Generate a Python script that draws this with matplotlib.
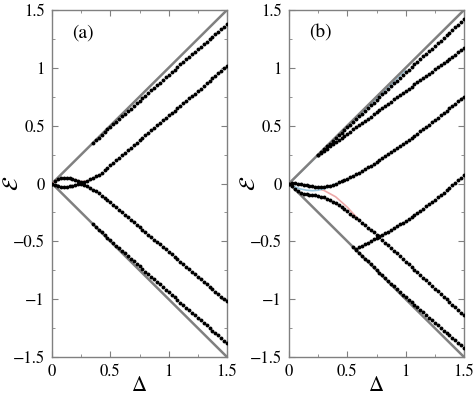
import numpy as np
import matplotlib
matplotlib.use("Agg")
import matplotlib.pyplot as plt
from matplotlib.ticker import MultipleLocator

# ---------------- data ----------------
# sampling grid of Delta (uniform, 0.025 step)
delta = np.linspace(0.0, 1.5, 61)

# panel (a)
a_outer_up = [0.350, 0.374, 0.397, 0.420, 0.444, 0.467, 0.490, 0.513, 0.535, 0.558,
              0.580, 0.603, 0.625, 0.648, 0.670, 0.693, 0.715, 0.738, 0.760, 0.783,
              0.805, 0.828, 0.850, 0.873, 0.895, 0.917, 0.940, 0.962, 0.985, 1.007,
              1.030, 1.052, 1.074, 1.096, 1.117, 1.139, 1.161, 1.183, 1.205, 1.227,
              1.248, 1.270, 1.291, 1.313, 1.335, 1.357, 1.380]          # from 0.35
a_inner_up = [0.000, 0.022, 0.037, 0.046, 0.050, 0.050, 0.046, 0.040, 0.032, 0.022,
              0.015, 0.016, 0.024, 0.035, 0.048, 0.062, 0.077, 0.094, 0.114, 0.136,
              0.158, 0.180, 0.201, 0.223, 0.245, 0.267, 0.288, 0.310, 0.331, 0.353,
              0.374, 0.396, 0.417, 0.439, 0.460, 0.482, 0.503, 0.525, 0.546, 0.567,
              0.589, 0.610, 0.631, 0.652, 0.673, 0.694, 0.715, 0.736, 0.757, 0.778,
              0.799, 0.821, 0.843, 0.865, 0.887, 0.909, 0.931, 0.953, 0.975, 0.998,
              1.020]
a_inner_lo = [0.000, -0.015, -0.024, -0.028, -0.029, -0.028, -0.025, -0.020, -0.014, -0.008,
              -0.004, -0.010, -0.022, -0.036, -0.052, -0.068, -0.086, -0.104, -0.123, -0.143,
              -0.163, -0.184, -0.206, -0.227, -0.249, -0.270, -0.292, -0.313, -0.335, -0.356,
              -0.378, -0.399, -0.420, -0.442, -0.463, -0.485, -0.506, -0.527, -0.549, -0.570,
              -0.591, -0.613, -0.634, -0.655, -0.677, -0.698, -0.720, -0.741, -0.762, -0.784,
              -0.805, -0.827, -0.848, -0.870, -0.891, -0.913, -0.934, -0.956, -0.977, -0.999,
              -1.020]
a_outer_lo = [-0.350, -0.374, -0.398, -0.421, -0.445, -0.468, -0.491, -0.514, -0.537, -0.559,
              -0.582, -0.604, -0.627, -0.649, -0.672, -0.694, -0.717, -0.739, -0.762, -0.784,
              -0.806, -0.829, -0.851, -0.873, -0.896, -0.918, -0.940, -0.962, -0.984, -1.007,
              -1.029, -1.051, -1.073, -1.095, -1.117, -1.139, -1.161, -1.183, -1.205, -1.227,
              -1.249, -1.271, -1.292, -1.314, -1.336, -1.358, -1.380]  # from 0.35

# panel (b)
b_1 = [0.250, 0.274, 0.297, 0.321, 0.345, 0.368, 0.392, 0.416, 0.439, 0.463,
       0.487, 0.510, 0.534, 0.558, 0.581, 0.605, 0.629, 0.652, 0.676, 0.700,
       0.723, 0.747, 0.771, 0.794, 0.818, 0.842, 0.865, 0.889, 0.913, 0.936,
       0.960, 0.983, 1.006, 1.029, 1.052, 1.075, 1.098, 1.121, 1.144, 1.167,
       1.190, 1.213, 1.236, 1.259, 1.282, 1.305, 1.328, 1.351, 1.374, 1.397,
       1.420]                                                     # from 0.25
b_2 = [0.245, 0.264, 0.283, 0.301, 0.320, 0.338, 0.357, 0.375, 0.394, 0.412,
       0.431, 0.449, 0.468, 0.486, 0.505, 0.523, 0.542, 0.560, 0.579, 0.597,
       0.616, 0.634, 0.653, 0.671, 0.690, 0.708, 0.727, 0.745, 0.764, 0.782,
       0.801, 0.819, 0.838, 0.856, 0.875, 0.893, 0.912, 0.930, 0.949, 0.967,
       0.986, 1.004, 1.023, 1.041, 1.060, 1.078, 1.097, 1.115, 1.134, 1.152,
       1.171]                                                     # from 0.25
b_3 = [0.000, 0.004, 0.003, 0.000, -0.004, -0.009, -0.014, -0.019, -0.024, -0.028,
       -0.031, -0.032, -0.030, -0.025, -0.018, -0.010, -0.001, 0.009, 0.020, 0.031,
       0.043, 0.055, 0.068, 0.081, 0.095, 0.109, 0.124, 0.139, 0.154, 0.170,
       0.186, 0.202, 0.219, 0.236, 0.253, 0.270, 0.287, 0.304, 0.321, 0.338,
       0.356, 0.375, 0.394, 0.413, 0.432, 0.451, 0.471, 0.490, 0.510, 0.530,
       0.550, 0.570, 0.590, 0.610, 0.630, 0.650, 0.670, 0.690, 0.710, 0.730,
       0.750]
b_4 = [0.000, -0.025, -0.048, -0.065, -0.078, -0.087, -0.093, -0.097, -0.100, -0.103,
       -0.107, -0.113, -0.121, -0.131, -0.143, -0.156, -0.171, -0.187, -0.204, -0.222,
       -0.241, -0.260, -0.279, -0.299, -0.319, -0.339, -0.360, -0.381, -0.402, -0.423,
       -0.444, -0.466, -0.489, -0.512, -0.536, -0.559, -0.582, -0.605, -0.629, -0.652,
       -0.675, -0.698, -0.722, -0.745, -0.768, -0.791, -0.815, -0.838, -0.861, -0.884,
       -0.908, -0.931, -0.954, -0.977, -1.001, -1.024, -1.047, -1.070, -1.094, -1.117,
       -1.140]
b_5 = [-0.565, -0.551, -0.538, -0.525, -0.512, -0.498, -0.484, -0.470, -0.457, -0.443,
       -0.429, -0.415, -0.400, -0.385, -0.370, -0.354, -0.338, -0.322, -0.305, -0.288,
       -0.271, -0.253, -0.235, -0.217, -0.198, -0.179, -0.160, -0.140, -0.120, -0.100,
       -0.080, -0.059, -0.038, -0.017, 0.004, 0.026, 0.048, 0.070]   # from 0.575
b_6 = [-0.550, -0.575, -0.600, -0.624, -0.649, -0.674, -0.698, -0.723, -0.747, -0.771,
       -0.795, -0.819, -0.843, -0.867, -0.890, -0.914, -0.937, -0.960, -0.980, -1.003,
       -1.026, -1.048, -1.071, -1.093, -1.115, -1.138, -1.160, -1.182, -1.205, -1.227,
       -1.249, -1.271, -1.293, -1.314, -1.336, -1.357, -1.378, -1.399, -1.420]  # from 0.55

# thin coloured guide curves near the origin
red_b_x = [0.0, 0.1, 0.2, 0.3, 0.4, 0.5, 0.6]
red_b_y = [0.0, -0.012, -0.030, -0.060, -0.115, -0.205, -0.315]
blue_b_x = [0.0, 0.05, 0.1, 0.15, 0.2, 0.25, 0.3, 0.35, 0.4]
blue_b_y = [0.0, -0.030, -0.048, -0.058, -0.062, -0.058, -0.045, -0.025, -0.002]
blue_diag_x = [0.0, 0.25, 0.5, 0.75, 1.0]
blue_diag_y = [0.0, 0.245, 0.490, 0.735, 0.978]
red_a_x = [0.0, 0.05, 0.1, 0.15, 0.2, 0.25, 0.3]
red_a_y = [0.0, 0.036, 0.049, 0.046, 0.033, 0.017, 0.023]

bound_x = [0.0, 1.5]
bound_up = [0.0, 1.5]
bound_lo = [0.0, -1.5]

xticks = [0, 0.5, 1, 1.5]
xticklabels = ["0", "0.5", "1", "1.5"]
yticks = [-1.5, -1, -0.5, 0, 0.5, 1, 1.5]
yticklabels = ["\u22121.5", "\u22121", "\u22120.5", "0", "0.5", "1", "1.5"]

# ---------------- figure ----------------
plt.rcParams['font.family'] = ['STIXGeneral', 'DejaVu Serif']
plt.rcParams['mathtext.fontset'] = 'stix'

fig = plt.figure(figsize=(4.74, 3.98), dpi=100)
ax_a = fig.add_axes([52/474, 1-357/398, 175/474, 347/398])
ax_b = fig.add_axes([289/474, 1-357/398, 175/474, 347/398])

gray = '#808080'
dot_kw = dict(ls='none', marker='o', ms=2.8, mfc='black', mec='black', mew=0, zorder=5)

def idx(start):
    return int(round(start / 0.025))

def style(ax, label):
    ax.set_xlim(0, 1.5)
    ax.set_ylim(-1.5, 1.5)
    ax.set_xticks(xticks)
    ax.set_xticklabels(xticklabels)
    ax.set_yticks(yticks)
    ax.set_yticklabels(yticklabels)
    ax.xaxis.set_minor_locator(MultipleLocator(0.25))
    ax.yaxis.set_minor_locator(MultipleLocator(0.25))
    ax.tick_params(which='both', direction='in', top=True, right=True,
                   color=gray, labelsize=12, pad=5)
    ax.tick_params(which='major', length=4, width=0.8)
    ax.tick_params(which='minor', length=2, width=0.6)
    for s in ax.spines.values():
        s.set_color(gray)
        s.set_linewidth(1.0)
    ax.set_xlabel(r'$\Delta$', fontsize=15)
    ax.xaxis.set_label_coords(0.5, -0.055)
    ax.set_ylabel(r'$\mathcal{E}$', fontsize=16)
    ax.yaxis.set_label_coords(-0.165, 0.5)
    ax.text(0.115, 0.935, label, transform=ax.transAxes, fontsize=14,
            va='center', ha='left')
    ax.plot(bound_x, bound_up, color=gray, lw=1.8, zorder=3)
    ax.plot(bound_x, bound_lo, color=gray, lw=1.8, zorder=3)

# panel (a)
style(ax_a, '(a)')
ax_a.plot(red_a_x, red_a_y, color='#eaa0a0', lw=1.0, zorder=4)
ax_a.plot(delta[idx(0.35):], a_outer_up, **dot_kw)
ax_a.plot(delta, a_inner_up, **dot_kw)
ax_a.plot(delta, a_inner_lo, **dot_kw)
ax_a.plot(delta[idx(0.35):], a_outer_lo, **dot_kw)

# panel (b)
style(ax_b, '(b)')
ax_b.plot(blue_diag_x, blue_diag_y, color='#a8d0e6', lw=1.2, zorder=2)
ax_b.plot(red_b_x, red_b_y, color='#eeaaaa', lw=1.2, zorder=4)
ax_b.plot(blue_b_x, blue_b_y, color='#9cc8e0', lw=1.2, zorder=4)
ax_b.plot(delta[idx(0.25):], b_1, **dot_kw)
ax_b.plot(delta[idx(0.25):], b_2, **dot_kw)
ax_b.plot(delta, b_3, **dot_kw)
ax_b.plot(delta, b_4, **dot_kw)
ax_b.plot(delta[idx(0.575):], b_5, **dot_kw)
ax_b.plot(delta[idx(0.55):], b_6, **dot_kw)

fig.savefig('out.png', dpi=100)
